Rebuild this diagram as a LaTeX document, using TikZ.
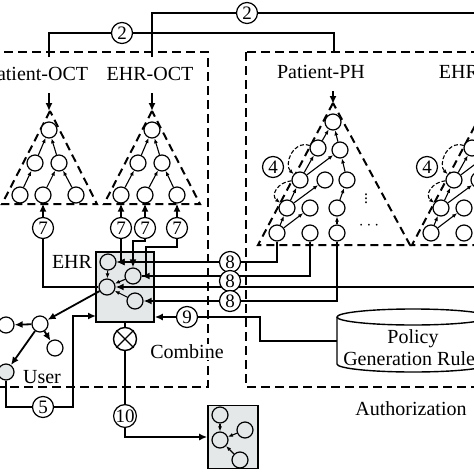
\documentclass[tikz,border=0pt]{standalone}
\usepackage{fontspec}
\setmainfont{Liberation Serif}
\usetikzlibrary{arrows.meta}

\definecolor{boxgray}{HTML}{E4E8E8}

\tikzset{
  v/.style={circle,draw,line width=1.2pt,minimum size=16pt,inner sep=0pt,fill=white},
  vg/.style={v,fill=boxgray},
  num/.style={circle,draw,line width=1.2pt,minimum size=21pt,inner sep=0pt,fill=white,font=\fontsize{19}{19}\selectfont},
  lbl/.style={font=\fontsize{20}{22}\selectfont,inner sep=1pt},
  region/.style={line width=2pt,dash pattern=on 9pt off 5pt},
  tri/.style={line width=2pt,dash pattern=on 8pt off 5pt},
  wire/.style={line width=1.8pt},
  tarr/.style={line width=1.1pt,-{Latex[length=5pt,width=4pt]}},
}

%% one PH tree, placed by the scope round it
\newcommand{\phtree}{%
  \draw[tri] (333,103) -- (258,245) -- (410,245) -- cycle;
  \node[v] (t1) at (333,122) {};
  \node[v] (t2) at (318,148) {};
  \node[v] (t3) at (340,150) {};
  \node[v] (t4) at (300,180) {};
  \node[v] (t5) at (325,180) {};
  \node[v] (t6) at (347,180) {};
  \node[v] (t7) at (287,208) {};
  \node[v] (t8) at (310,208) {};
  \node[v] (t9) at (337,208) {};
  \node[v] (t10) at (277,233) {};
  \node[v] (t11) at (310,233) {};
  \node[v] (t12) at (337,233) {};
  \draw[tarr] (t2) -- (t1);
  \draw[tarr] (t3) -- (t1);
  \draw[tarr] (t4) -- (t2);
  \draw[tarr] (t4) -- (t3);
  \draw[tarr] (t6) -- (t3);
  \draw[tarr] (t7) -- (t4);
  \draw[tarr] (t7) -- (t5);
  \draw[tarr] (t9) -- (t6);
  \draw[tarr] (t10) -- (t7);
  \draw[tarr] (t10) -- (t8);
  \draw[tarr] (t12) -- (t9);
  %% dashed loops
  \draw[tarr,dash pattern=on 4pt off 2pt] (t2) .. controls (292,140) and (284,165) .. (t4);
  \draw[tarr,dash pattern=on 4pt off 2pt] (t4) .. controls (278,182) and (270,195) .. (t7);
  \node[num] (f4) at (273,167) {4};
  \node[inner sep=0pt] (vd) at (366,196) {\fontsize{16}{16}\selectfont$\vdots$};
  \node[inner sep=0pt] (hd) at (369,226) {\fontsize{16}{16}\selectfont$\cdots$};
}

\begin{document}
\begin{tikzpicture}[x=1pt,y=-1pt,>={Latex[length=8pt,width=7pt]}]
  \useasboundingbox (0,0) rectangle (474,474);
  \clip (0,0) rectangle (474,474);

  %% dashed regions
  \draw[region] (-10,52) -- (208,52) -- (208,387) -- (-10,387);
  \draw[region] (246,52) rectangle (490,387);

  %% labels
  \node[lbl] (pocl) at (37,74) {Patient-OCT};
  \node[lbl] (eocl) at (150,74) {EHR-OCT};
  \node[lbl] (phl) at (321,72) {Patient-PH};
  \node[lbl] (ehl) at (475,72) {EHR-PH};
  \node[lbl] (ehrl) at (72,262) {EHR};
  \node[lbl] (usrl) at (42,377) {User};
  \node[lbl,fill=white] (comb) at (187,352) {Combine};
  \node[lbl] (auth) at (411,409) {Authorization};

  %% OCT trees
  \draw[tri] (50,111) -- (2,204) -- (97,204) -- cycle;
  \draw[tri] (152,111) -- (104,204) -- (200,204) -- cycle;
  \node[v] (po1) at (49,130) {};
  \node[v] (po2) at (35,163) {};
  \node[v] (po3) at (59,163) {};
  \node[v] (po4) at (20,195) {};
  \node[v] (po5) at (43,195) {};
  \node[v] (po6) at (76,195) {};
  \draw[tarr] (po2) -- (po1);
  \draw[tarr] (po3) -- (po1);
  \draw[tarr] (po4) -- (po2);
  \draw[tarr] (po5) -- (po3);
  \draw[tarr] (po6) -- (po3);
  \node[v] (eo1) at (152,130) {};
  \node[v] (eo2) at (138,163) {};
  \node[v] (eo3) at (162,163) {};
  \node[v] (eo4) at (121,195) {};
  \node[v] (eo5) at (145,195) {};
  \node[v] (eo6) at (177,195) {};
  \draw[tarr] (eo2) -- (eo1);
  \draw[tarr] (eo3) -- (eo1);
  \draw[tarr] (eo4) -- (eo2);
  \draw[tarr] (eo5) -- (eo3);
  \draw[tarr] (eo6) -- (eo3);

  %% PH trees
  \begin{scope}[name prefix=ph-]
    \phtree
  \end{scope}
  \begin{scope}[xshift=154pt,name prefix=eh-]
    \phtree
  \end{scope}

  %% inputs into the trees
  \coordinate (poin) at (49,93);
  \coordinate (poa) at (49,111);
  \coordinate (eoin) at (152,93);
  \coordinate (eoa) at (152,111);
  \coordinate (phin) at (333,91);
  \coordinate (pha) at (333,104);
  \draw[wire,->] (poin) -- (poa);
  \draw[wire,->] (eoin) -- (eoa);
  \draw[wire,->] (phin) -- (pha);

  %% top wires
  \coordinate (potop) at (49,57);
  \coordinate (eotop) at (152,57);
  \coordinate (phtop) at (334,52);
  \coordinate (ehtop) at (488,52);
  \node[num] (c2a) at (122,33) {2};
  \node[num] (c2b) at (247,13) {2};
  \draw[wire] (potop) |- (c2a);
  \draw[wire] (c2a) -| (phtop);
  \draw[wire] (eotop) |- (c2b);
  \draw[wire] (c2b) -| (ehtop);

  %% EHR box
  \node[draw,line width=1.6pt,fill=boxgray,minimum width=58pt,minimum height=70pt,inner sep=0pt] (ehr) at (125,287) {};
  \node[vg] (ea) at (108,262) {};
  \node[vg] (eb) at (133,276) {};
  \node[vg] (ec) at (107,287) {};
  \node[vg] (ed) at (135,301) {};
  \draw[tarr] (ea) -- (ec);
  \draw[tarr] (eb) -- (ec);
  \draw[tarr] (ed) -- (ec);

  %% 7: OCT leaves
  \node[num] (s7a) at (43,228) {7};
  \node[num] (s7b) at (121,228) {7};
  \node[num] (s7c) at (145,228) {7};
  \node[num] (s7d) at (177,228) {7};
  \draw[wire,->] (s7a) -- (po5);
  \draw[wire,->] (s7b) -- (eo4);
  \draw[wire,->] (s7c) -- (eo5);
  \draw[wire,->] (s7d) -- (eo6);
  \coordinate (k7c) at (133,241);
  \coordinate (k7d) at (146,247);
  \draw[wire] (s7a) |- (ec);
  \draw[wire,->] (s7b) |- (ea);
  \draw[wire,->] (s7c) |- (k7c) -- (eb);
  \draw[wire] (s7d) |- (k7d) |- (eb);

  %% 8: PH leaves
  \draw[wire,->] (ph-t10) |- (ea);
  \draw[wire,->] (ph-t11) |- (eb);
  \draw[wire,->] (eh-t12) |- (ec);
  \draw[wire,->] (ph-t12) |- (ed);
  \node[num] (s8a) at (230,262) {8};
  \node[num] (s8b) at (230,281) {8};
  \node[num] (s8c) at (230,301) {8};

  %% policy generation rules
  \draw[line width=1.4pt,fill=white] (337,317) -- (337,364) arc[start angle=180,end angle=360,x radius=76pt,y radius=8pt] -- (489,317);
  \draw[line width=1.4pt] (413,317) ellipse [x radius=76pt,y radius=8pt];
  \node[lbl,align=center] (pgrl) at (413,348) {Policy\\Generation Rules};
  \coordinate (pgr) at (337,341);
  \coordinate (k9) at (260,317);
  \node[num] (c9) at (187,317) {9};
  \draw[wire] (pgr) -| (k9) -- (c9);
  \draw[wire,->] (c9) -- (ehr.east |- c9);

  %% user
  \node[v] (u1) at (40,324) {};
  \node[v] (u0) at (6,325) {};
  \node[v] (u2) at (55,348) {};
  \node[vg] (u3) at (6,372) {};
  \draw[wire,->] (ec) -- (u1);
  \draw[wire,->] (u1) -- (u0);
  \draw[wire,->] (u1) -- (u2);
  \draw[wire,->] (u1) -- (u3);
  \node[num] (c5) at (43,407) {5};
  \coordinate (k5) at (73,316);
  \coordinate (ehrin) at (96,316);
  \draw[wire] (u3) |- (c5);
  \draw[wire,->] (c5) -| (k5) -- (ehrin);

  %% combine and result
  \node[circle,draw,line width=1.4pt,minimum size=23pt,fill=white] (ox) at (125,339) {};
  \draw[line width=1.4pt] (ox.north west) -- (ox.south east) (ox.north east) -- (ox.south west);
  \draw[wire] (ehr) -- (ox);
  \node[num] (c10) at (125,416) {10};
  \node[draw,line width=1.6pt,fill=boxgray,minimum width=50pt,minimum height=63pt,inner sep=0pt] (res) at (233,437) {};
  \node[vg] (r1) at (220,415) {};
  \node[vg] (r2) at (220,440) {};
  \node[vg] (r3) at (245,430) {};
  \node[vg] (r4) at (240,460) {};
  \draw[tarr] (r1) -- (r2);
  \draw[tarr] (r3) -- (r2);
  \draw[tarr] (r4) -- (r2);
  \draw[wire] (ox) -- (c10);
  \draw[wire,->] (c10) |- (res);
\end{tikzpicture}
\end{document}
